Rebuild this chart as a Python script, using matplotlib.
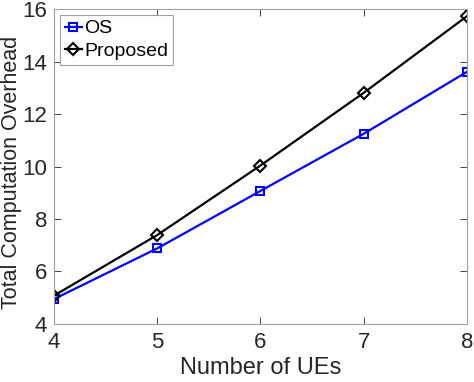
import matplotlib
matplotlib.use('Agg')
matplotlib.rcParams.update({'font.size': 16, 'font.family': ['Liberation Sans', 'DejaVu Sans']})
from matplotlib import pyplot as plt

num_ues = [4, 5, 6, 7, 8]
os_overhead = [4.95, 6.88, 9.07, 11.25, 13.61]
proposed_overhead = [5.08, 7.39, 10.04, 12.81, 15.73]

axcol = '#262626'

fig = plt.figure(figsize=(4.74, 3.82), dpi=100)
ax = fig.add_axes([0.114, 0.152, 0.871, 0.824])

ax.plot(num_ues, os_overhead, color='#0000ff', lw=1.6, marker='s', ms=6,
        mfc='none', mew=1.5, label='OS')
ax.plot(num_ues, proposed_overhead, color='black', lw=1.6, marker='D', ms=6,
        mfc='none', mew=1.5, label='Proposed')

ax.set_xlim(4, 8)
ax.set_ylim(4, 16)
ax.set_xticks(num_ues)
ax.set_yticks([4, 6, 8, 10, 12, 14, 16])
ax.tick_params(direction='in', top=True, right=True, colors=axcol, length=5,
               width=0.6, labelsize=16, pad=6)
ax.tick_params(axis='y', pad=5)
for s in ax.spines.values():
    s.set_color('#a0a0a0')
    s.set_linewidth(0.8)

ax.set_xlabel('Number of UEs', fontsize=17, color=axcol)
ax.xaxis.set_label_coords(0.5, -0.105)
ax.set_ylabel('Total Computation Overhead', fontsize=15.5, color=axcol, va='top')
ax.yaxis.set_label_coords(-0.128, 0.48)

leg = ax.legend(loc='upper left', fontsize=14, fancybox=False, framealpha=1,
                edgecolor='#a0a0a0', handlelength=0.9, handletextpad=0.1,
                borderpad=0.25, labelspacing=0.25, borderaxespad=0.3)
leg.get_frame().set_linewidth(0.8)

fig.savefig('out.png', dpi=100)
